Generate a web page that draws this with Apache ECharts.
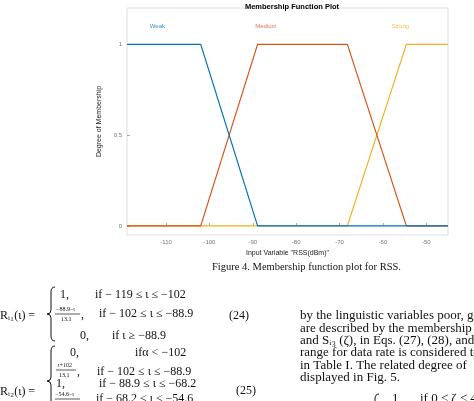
<!DOCTYPE html>
<html lang="en">
<head>
<meta charset="UTF-8">
<title>Membership Function Plot</title>
<script src="https://cdn.jsdelivr.net/npm/echarts@6/dist/echarts.min.js"></script>
<style>body{margin:0;background:#fff}</style>
</head>
<body>
<div id="main" style="width:474px;height:401px;"></div>
<script>
// membership functions, [rss, degree]
const weak = [[-119, 1], [-102, 1], [-88.9, 0], [-45, 0]];
const medium = [[-119, 0], [-102, 0], [-88.9, 1], [-68.2, 1], [-54.6, 0], [-45, 0]];
const strong = [[-119, 0], [-68.2, 0], [-54.6, 1], [-45, 1]];
const labels = [['Weak', -112, 1.1], ['Medium', -87, 1.1], ['Strong', -56, 1.1]];
const xTicks = [-110, -100, -90, -80, -70, -60, -50];

const colors = ['#0072BD', '#D95319', '#EDB120'];
const serif = 'Liberation Serif';

function txt(x, y, s, size) {
  return { type: 'text', left: x, top: y,
    style: { text: s, font: (size || 13) + 'px "' + serif + '"', fill: '#111' } };
}
const ink = { stroke: '#111', fill: null, lineWidth: 1 };
function hline(x1, x2, y) {
  return { type: 'line', shape: { x1: x1, y1: y, x2: x2, y2: y }, style: { stroke: '#111', lineWidth: 0.7 } };
}
// tall curly brace from curves and lines
function brace(x, y, h) {
  const m = y + h / 2, b = y + h, a = x + 1;
  const bz = (x1, y1, cx, cy, x2, y2) => ({ type: 'bezierCurve', shape: { x1, y1, cpx1: cx, cpy1: cy, x2, y2 }, style: ink });
  const ln = (y1, y2) => ({ type: 'line', shape: { x1: a, y1, x2: a, y2 }, style: ink });
  return [
    bz(x + 5, y, a, y, a, y + 5), ln(y + 5, m - 4), bz(a, m - 4, a, m, x - 3, m),
    bz(x - 3, m, a, m, a, m + 4), ln(m + 4, b - 5), bz(a, b - 5, a, b, x + 5, b)
  ];
}

let chart = echarts.init(document.getElementById('main'));

let lineSeries = [weak, medium, strong].map((d, i) => ({
  type: 'line', data: d, symbol: 'none', lineStyle: { width: 1.2, color: colors[i] }, z: 3 - i
}));
lineSeries.push({
  type: 'scatter', symbolSize: 0,
  itemStyle: { color: 'transparent' },
  data: labels.map((l, i) => ({ value: [l[1], l[2]], name: l[0],
    label: { show: true, position: 'inside', formatter: l[0], color: colors[i], fontSize: 6, fontFamily: 'Liberation Sans' } }))
});

chart.setOption({
  animation: false,
  title: { text: 'Membership Function Plot', left: 287, textAlign: 'center', top: -2,
    textStyle: { fontSize: 7.5, fontWeight: 'bold', fontFamily: 'Liberation Sans', color: '#000' } },
  grid: { left: 127, right: 26, top: 8, bottom: 166, show: true, borderColor: '#ddd', borderWidth: 1 },
  xAxis: {
    type: 'value', min: -119, max: -45,
    name: 'Input Variable "RSS(dBm)"', nameLocation: 'middle', nameGap: 10,
    nameTextStyle: { fontSize: 7, fontFamily: 'Liberation Sans', color: '#222' },
    axisLine: { show: false },
    axisTick: { inside: true, length: 3, lineStyle: { color: '#aaa' }, customValues: xTicks },
    axisLabel: { fontSize: 6, color: '#777', margin: 4, fontFamily: 'Liberation Sans', customValues: xTicks },
    splitLine: { show: false }
  },
  yAxis: {
    type: 'value', min: -0.05, max: 1.2,
    name: 'Degree of Membership', nameLocation: 'middle', nameGap: 18,
    nameTextStyle: { fontSize: 7, fontFamily: 'Liberation Sans', color: '#222' },
    axisLine: { show: false },
    axisTick: { inside: true, length: 3, lineStyle: { color: '#aaa' }, customValues: [0, 0.5, 1] },
    axisLabel: { fontSize: 6, color: '#777', margin: 5, fontFamily: 'Liberation Sans', customValues: [0, 0.5, 1] },
    splitLine: { show: false }
  },
  series: lineSeries,
  graphic: [
    txt(212, 262, 'Figure 4. Membership function plot for RSS.', 10.5),
    // eq 24
    txt(0, 310, 'R\u1D62\u2081(\u03B9) =', 12),
    ...brace(50, 287, 54),
    txt(60, 289, '1,', 12),
    txt(95, 289, 'if \u2212 119 \u2264 \u03B9 \u2264 \u2212102', 12),
    txt(56, 306, '\u221288.9\u2212\u03B9', 6),
    hline(55, 80, 314),
    txt(61, 316, '13.1', 6),
    txt(81, 309, ',', 12),
    txt(99, 308, 'if \u2212 102 \u2264 \u03B9 \u2264 \u221288.9', 12),
    txt(80, 330, '0,', 12),
    txt(112, 330, 'if \u03B9 \u2265 \u221288.9', 12),
    txt(229, 310, '(24)', 12),
    // eq 25
    txt(0, 386, 'R\u1D62\u2082(\u03B9) =', 12),
    ...brace(50, 346, 70),
    txt(70, 347, '0,', 12),
    txt(135, 347, 'if\u03B1 < \u2212102', 12),
    txt(58, 362, '\u03B9+102', 6),
    hline(56, 76, 370),
    txt(59, 372, '13.1', 6),
    txt(77, 366, ',', 12),
    txt(97, 366, 'if \u2212 102 \u2264 \u03B9 \u2264 \u221288.9', 12),
    txt(56, 378, '1,', 12),
    txt(99, 378, 'if \u2212 88.9 \u2264 \u03B9 \u2264 \u221268.2', 12),
    txt(55, 391, '\u221254.6\u2212\u03B9', 6),
    hline(55, 80, 399),
    txt(84, 393, ',', 12),
    txt(96, 393, 'if \u2212 68.2 \u2264 \u03B9 \u2264 \u221254.6', 12),
    txt(236, 385, '(25)', 12),
    // right column
    txt(300, 309, 'by the linguistic variables poor, good', 13),
    txt(300, 322, 'are described by the membership f', 13),
    txt(300, 334, 'and S\u1D62\u2083 (\u03B6), in Eqs. (27), (28), and', 13),
    txt(300, 346, 'range for data rate is considered to', 13),
    txt(300, 359, 'in Table I. The related degree of', 13),
    txt(300, 371, 'displayed in Fig. 5.', 13),
    ...brace(374, 394, 30),
    txt(392, 392, '1,', 13),
    txt(420, 392, 'if 0 \u2264 \u03B6 \u2264 4', 13)
  ]
});
</script>
</body>
</html>
